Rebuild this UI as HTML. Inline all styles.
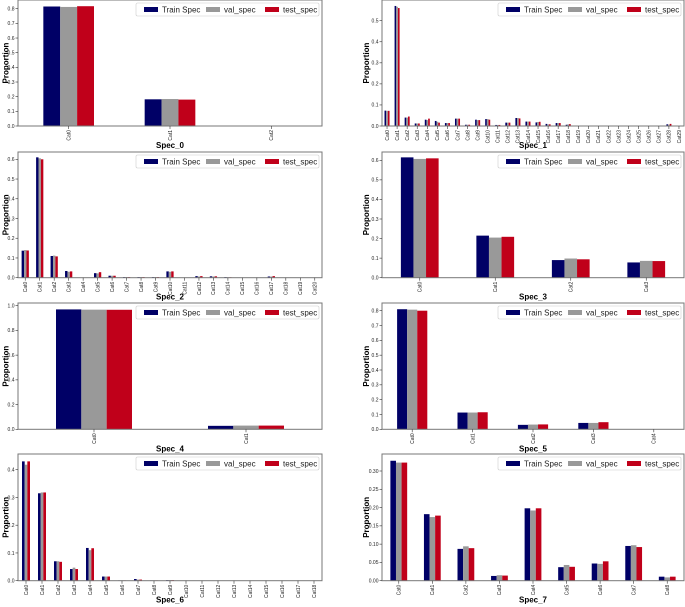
<!DOCTYPE html>
<html><head><meta charset="utf-8">
<style>
html,body{margin:0;padding:0;background:#fff;width:685px;height:607px;overflow:hidden}
svg{display:block;font-family:"Liberation Sans",sans-serif}
</style></head>
<body>
<svg id="chart" width="685" height="607" viewBox="0 0 685 607" xmlns="http://www.w3.org/2000/svg"></svg>
<script>
const seriesNames = ["Train Spec","val_spec","test_spec"];
const seriesColors = ["#000066","#999999","#c0001a"];

const spec0Train=[0.815,0.182,0.002];
const spec0Val=[0.812,0.184,0.003];
const spec0Test=[0.817,0.180,0.002];

const spec1Train=[0.073,0.570,0.040,0.012,0.030,0.024,0.014,0.035,0.006,0.030,0.033,0.005,0.016,0.038,0.021,0.017,0.010,0.014,0.006,0.001,0.001,0.0005,0.001,0,0,0,0,0,0.008,0];
const spec1Val=[0.072,0.566,0.040,0.012,0.028,0.020,0.014,0.035,0.006,0.028,0.033,0.005,0.016,0.038,0.021,0.019,0.008,0.014,0.008,0.001,0.001,0.0005,0.001,0,0,0,0,0,0.007,0];
const spec1Test=[0.072,0.560,0.045,0.012,0.035,0.016,0.014,0.035,0.006,0.028,0.030,0.005,0.016,0.036,0.021,0.020,0.008,0.014,0.009,0.001,0.001,0.0005,0.001,0,0,0,0,0,0.010,0];

const spec2Train=[0.137,0.610,0.110,0.034,0.001,0.023,0.010,0.003,0.003,0.003,0.032,0,0.008,0.007,0.003,0,0,0.006,0,0,0];
const spec2Val=[0.140,0.605,0.112,0.030,0.001,0.022,0.010,0.003,0.003,0.003,0.030,0,0.006,0.006,0.002,0,0,0.006,0,0,0];
const spec2Test=[0.138,0.600,0.108,0.032,0,0.028,0.010,0.003,0.003,0.003,0.032,0,0.008,0.007,0.002,0,0,0.008,0,0,0];

const spec3Train=[0.615,0.215,0.090,0.078];
const spec3Val=[0.607,0.205,0.098,0.086];
const spec3Test=[0.610,0.209,0.094,0.085];

const spec4Train=[0.970,0.028];
const spec4Val=[0.968,0.030];
const spec4Test=[0.967,0.030];

const spec5Train=[0.810,0.113,0.030,0.043,0.002];
const spec5Val=[0.807,0.113,0.032,0.043,0.001];
const spec5Test=[0.800,0.115,0.033,0.048,0.002];

const spec6Train=[0.430,0.315,0.070,0.042,0.118,0.015,0.001,0.006,0.001,0.002,0,0,0,0,0,0,0,0,0];
const spec6Val=[0.418,0.318,0.070,0.047,0.110,0.015,0.001,0.004,0.001,0.002,0,0,0,0,0,0,0,0,0];
const spec6Test=[0.430,0.318,0.068,0.042,0.117,0.015,0.001,0.004,0.001,0.002,0,0,0,0,0,0,0,0,0];

const spec7Train=[0.328,0.182,0.087,0.013,0.198,0.037,0.047,0.095,0.011];
const spec7Val=[0.323,0.174,0.094,0.015,0.192,0.043,0.046,0.097,0.009];
const spec7Test=[0.323,0.178,0.089,0.014,0.198,0.038,0.053,0.092,0.011];

const ticks01_08=[0,0.1,0.2,0.3,0.4,0.5,0.6,0.7,0.8];
const ticks01_05=[0,0.1,0.2,0.3,0.4,0.5];
const ticks01_06=[0,0.1,0.2,0.3,0.4,0.5,0.6];
const ticks02_10=[0,0.2,0.4,0.6,0.8,1.0];
const ticks01_04=[0,0.1,0.2,0.3,0.4];
const ticks005_30=[0,0.05,0.10,0.15,0.20,0.25,0.30];

const panels=[
 {title:"Spec_0",series:[spec0Train,spec0Val,spec0Test],ticks:ticks01_08,dec:1,x0:18,x1:322,yt:0,yb:126,tv:0.8,tp:8.7},
 {title:"Spec_1",series:[spec1Train,spec1Val,spec1Test],ticks:ticks01_05,dec:1,x0:382,x1:684,yt:0,yb:126,tv:0.5,tp:20.7},
 {title:"Spec_2",series:[spec2Train,spec2Val,spec2Test],ticks:ticks01_06,dec:1,x0:18,x1:322,yt:152,yb:277.7,tv:0.6,tp:159.3},
 {title:"Spec_3",series:[spec3Train,spec3Val,spec3Test],ticks:ticks01_06,dec:1,x0:382,x1:684,yt:152,yb:277.7,tv:0.6,tp:160.3},
 {title:"Spec_4",series:[spec4Train,spec4Val,spec4Test],ticks:ticks02_10,dec:1,x0:18,x1:322,yt:303,yb:429.3,tv:1.0,tp:305.7},
 {title:"Spec_5",series:[spec5Train,spec5Val,spec5Test],ticks:ticks01_08,dec:1,x0:382,x1:684,yt:303,yb:429.3,tv:0.8,tp:310.7},
 {title:"Spec_6",series:[spec6Train,spec6Val,spec6Test],ticks:ticks01_04,dec:1,x0:18,x1:322,yt:454,yb:580.7,tv:0.4,tp:469.7},
 {title:"Spec_7",series:[spec7Train,spec7Val,spec7Test],ticks:ticks005_30,dec:2,x0:382,x1:684,yt:454,yb:580.7,tv:0.30,tp:471}
];

const svg=document.getElementById('chart');
const NS="http://www.w3.org/2000/svg";
function mk(tag,attrs,parent){const e=document.createElementNS(NS,tag);for(const k in attrs)e.setAttribute(k,attrs[k]);(parent||svg).appendChild(e);return e;}

panels.forEach((p,pi)=>{
  const g=mk('g',{});
  
  
  const n=p.series[0].length;
  const cw=(p.x1-p.x0)/n;
  const sc=(p.yb-p.tp)/p.tv;
  const yS=v=>p.yb-v*sc;
  const xC=i=>p.x0+(i+0.5)*cw;
  const bg=mk('rect',{x:p.x0,y:p.yt,width:p.x1-p.x0,height:p.yb-p.yt,fill:'#fff'},g);
  
  
  const bw=cw*0.5/3;
  p.series.forEach((s,si)=>{
    s.forEach((v,i)=>{
      const x=xC(i)-cw*0.25+si*bw;
      const r=mk('rect',{x:x,y:yS(v),width:bw,height:Math.max(0,p.yb-yS(v)),fill:seriesColors[si]},g);
      
      
    });
  });
  const fr=mk('rect',{x:p.x0,y:p.yt,width:p.x1-p.x0,height:p.yb-p.yt,fill:'none',stroke:'#777','stroke-width':1},g);
  
  
  p.ticks.forEach(t=>{
    const y=yS(t);
    mk('line',{x1:p.x0-2.5,x2:p.x0,y1:y,y2:y,stroke:'#333','stroke-width':0.6},g);
    const tx=mk('text',{x:p.x0-3.5,y:y+1.8,'font-size':5,'text-anchor':'end',fill:'#222'},g);
    tx.textContent=t.toFixed(p.dec);
    
    
  });
  for(let i=0;i<n;i++){
    const x=xC(i);
    mk('line',{x1:x,x2:x,y1:p.yb,y2:p.yb+3,stroke:'#333','stroke-width':0.6},g);
    const tx=mk('text',{x:0,y:0,'font-size':5,'text-anchor':'end',fill:'#222',transform:`translate(${x+1.8},${p.yb+4}) rotate(-90)`},g);
    tx.textContent='Cat'+i;
    
    
  }
  const ylx = p.x0<100 ? 8.5 : p.x0-13;
  const yl=mk('text',{x:0,y:0,'font-size':8,'font-weight':'bold','text-anchor':'middle',fill:'#000',transform:`translate(${ylx},${(p.yt+p.yb)/2}) rotate(-90)`},g);
  yl.textContent='Proportion';
  
  
  const tt=mk('text',{x:(p.x0+p.x1)/2,y:p.yb+22,'font-size':8,'font-weight':'bold','text-anchor':'middle',fill:'#000'},g);
  tt.textContent=p.title;
  
  
  const lx=p.x1-186, ly=p.yt+3;
  const lg=mk('g',{},g);
  
  
  mk('rect',{x:lx,y:ly,width:183,height:13,fill:'#fff',stroke:'#ccc','stroke-width':0.6,rx:1.5},lg);
  const offs=[8,70,129];
  seriesNames.forEach((nm,si)=>{
    const h=mk('rect',{x:lx+offs[si],y:ly+4,width:14,height:5,fill:seriesColors[si]},lg);
    
    
    const t=mk('text',{x:lx+offs[si]+18,y:ly+9.5,'font-size':8,fill:'#222'},lg);
    t.textContent=nm;
    
    
  });
});
</script>
</body></html>
